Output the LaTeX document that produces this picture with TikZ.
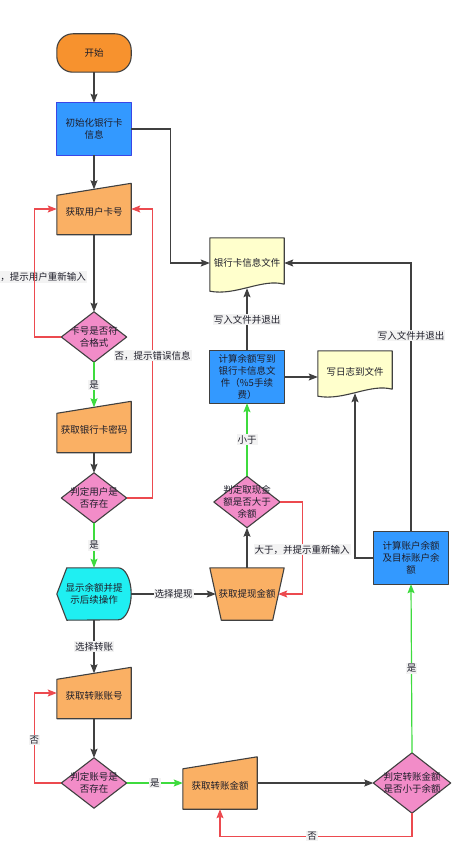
\documentclass[tikz,border=0pt]{standalone}
\usepackage{fontspec}
\setmainfont{Noto Sans CJK SC}
\usetikzlibrary{arrows.meta,backgrounds}
\definecolor{linegray}{HTML}{404040}
\definecolor{okgreen}{HTML}{3EDB3E}
\definecolor{nored}{HTML}{EC4A4F}
\definecolor{startorange}{HTML}{F7922E}
\definecolor{inorange}{HTML}{FAB064}
\definecolor{decpink}{HTML}{F28CC8}
\definecolor{procblue}{HTML}{3399FF}
\definecolor{initborder}{HTML}{3A46E6}
\definecolor{docyellow}{HTML}{FFFFCC}
\definecolor{showcyan}{HTML}{1FEFF2}
\definecolor{lblgray}{HTML}{F3F3F3}
\definecolor{textdark}{HTML}{1E1E2A}
\tikzset{
  box/.style={minimum width=74pt, minimum height=52pt, inner sep=0pt, align=center, text=textdark},
  inbox/.style={box, minimum height=45pt},
  decbox/.style={box, minimum width=65pt, minimum height=50pt},
  docbox/.style={box, minimum height=50pt},
  shapeline/.style={draw=linegray, line width=1.1pt, line join=round},
  arr/.style={draw=linegray, line width=1.2pt, -{Stealth[length=9pt,width=7pt,inset=1.5pt]}},
  yesarr/.style={arr, draw=okgreen},
  noarr/.style={arr, draw=nored},
  lbl/.style={fill=lblgray, inner sep=1pt, text=textdark}
}
\begin{document}
\begin{tikzpicture}[x=1pt, y=-1pt, font=\fontsize{9.5}{12}\selectfont]
\useasboundingbox (0,0) rectangle (474,859);
% left column
\node[box, minimum height=38pt] (start) at (94,53) {开始};
\node[box] (init) at (94,129) {初始化银行卡\\信息};
\node[inbox] (cardin) at (94,212) {获取用户卡号};
\node[decbox] (cardok) at (94,337) {卡号是否符\\合格式};
\node[inbox] (pwdin) at (94,430) {获取银行卡密码};
\node[decbox] (userok) at (94,498) {判定用户是\\否存在};
\node[box] (show) at (94,594) {显示余额并提\\示后续操作};
\node[inbox] (acctin) at (94,696) {获取转账账号};
\node[decbox] (acctok) at (94,783) {判定账号是\\否存在};
% transfer
\node[inbox, minimum height=46pt] (amtin) at (220,786) {获取转账金额};
\node[decbox, minimum width=77pt, minimum height=60pt] (amtok) at (412,783) {判定转账金额\\是否小于余额};
\node[box] (calc2) at (411,558) {计算账户余额\\及目标账户余\\额};
% withdraw
\node[box] (wdin) at (247,594) {获取提现金额};
\node[decbox, minimum width=66pt, minimum height=51pt] (wdok) at (247,502) {判定取现金\\额是否大于\\余额};
\node[box] (calc1) at (247,377) {计算余额写到\\银行卡信息文\\件（\%5手续\\费）};
% files
\node[docbox] (bankfile) at (247,263) {银行卡信息文件};
\node[docbox, minimum height=42pt] (logfile) at (355,372) {写日志到文件};

\begin{scope}[on background layer]
\draw[shapeline, fill=startorange, rounded corners=16pt] (start.south west) rectangle (start.north east);
\draw[shapeline, draw=initborder, fill=procblue] (init.south west) rectangle (init.north east);
\foreach \n in {calc1,calc2}
  \draw[shapeline, fill=procblue] (\n.south west) rectangle (\n.north east);
\foreach \n in {cardin,pwdin,acctin,amtin}
  \draw[shapeline, fill=inorange] (\n.south west) -- ([yshift=-6pt]\n.north west) -- ([yshift=6pt]\n.north east) -- (\n.south east) -- cycle;
\foreach \n in {cardok,userok,acctok,amtok,wdok}
  \draw[shapeline, fill=decpink] (\n.west) -- (\n.north) -- (\n.east) -- (\n.south) -- cycle;
\foreach \n in {bankfile,logfile}
  \draw[shapeline, fill=docyellow] ([yshift=-3pt]\n.south west) -- (\n.north west) -- (\n.north east) -- ([yshift=4pt]\n.south east)
    .. controls ([xshift=-22pt,yshift=10pt]\n.south east) and ([xshift=26pt,yshift=-8pt]\n.south west) .. ([yshift=-3pt]\n.south west) -- cycle;
\draw[shapeline, fill=inorange] (wdin.north west) -- (wdin.north east) -- ([xshift=-11.5pt]wdin.south east) -- ([xshift=11.5pt]wdin.south west) -- cycle;
\draw[shapeline, fill=showcyan] (show.west) -- ([xshift=10pt]show.north west) -- ([xshift=-13pt]show.north east)
  arc[start angle=90, end angle=-90, x radius=13pt, y radius=26pt] -- ([xshift=10pt]show.south west) -- cycle;
\end{scope}

\node[lbl, anchor=east] (retrylbl) at (87,277) {，提示用户重新输入};
% connectors
\draw[arr] (start.south) -- (init.north);
\draw[arr] (init.south) -- (cardin.north);
\draw[arr] (cardin.south) -- (cardok.north);
\draw[noarr] (cardok.west) -- ++(-27,0) |- ([yshift=3pt]cardin.west);
\draw[yesarr] (cardok.south) -- (pwdin.north) node[lbl, pos=0.5]{是};
\draw[arr] (pwdin.south) -- (userok.north);
\draw[noarr] (userok.east) -- ++(26,0) |- ([yshift=3pt]cardin.east) node[lbl, pos=0.246]{否，提示错误信息};
\draw[yesarr] (userok.south) -- (show.north) node[lbl, pos=0.5]{是};
\draw[arr] (show.east) -- ([xshift=6pt]wdin.west) node[lbl, pos=0.5]{选择提现};
\draw[arr] (show.south) -- (acctin.north) node[lbl, pos=0.5]{选择转账};
\draw[arr] (acctin.south) -- (acctok.north);
\draw[noarr] (acctok.west) -- ++(-27,0) |- ([yshift=3pt]acctin.west) node[lbl, pos=0.24]{否};
\draw[yesarr] (acctok.east) -- (acctok.east -| amtin.west) node[lbl, pos=0.5]{是};
\draw[arr] (amtin.east |- amtok.west) -- (amtok.west);
\draw[noarr] (amtok.south) -- ++(0,23) -| (amtin.south) node[lbl, pos=0.26]{否};
\draw[yesarr] (amtok.north) -- (calc2.south) node[lbl, pos=0.5]{是};
\draw[arr] (calc2.north) |- (bankfile.east) node[lbl, pos=0.365]{写入文件并退出};
\draw[arr] (calc2.west) -| (logfile.south);
\draw[arr] (wdin.north) -- (wdok.south);
\draw[noarr] (wdok.east) -- ++(22,0) |- ([xshift=-6pt]wdin.east) node[lbl, pos=0.26]{大于，并提示重新输入};
\draw[yesarr] (wdok.north) -- (calc1.south) node[lbl, pos=0.5]{小于};
\draw[arr] (calc1.north) -- (bankfile.south) node[lbl, pos=0.5]{写入文件并退出};
\draw[arr] (calc1.east) -- (calc1.east -| logfile.west);
\draw[arr] (init.east) -| ([xshift=-39pt]bankfile.west) -- (bankfile.west);
\end{tikzpicture}
\end{document}
